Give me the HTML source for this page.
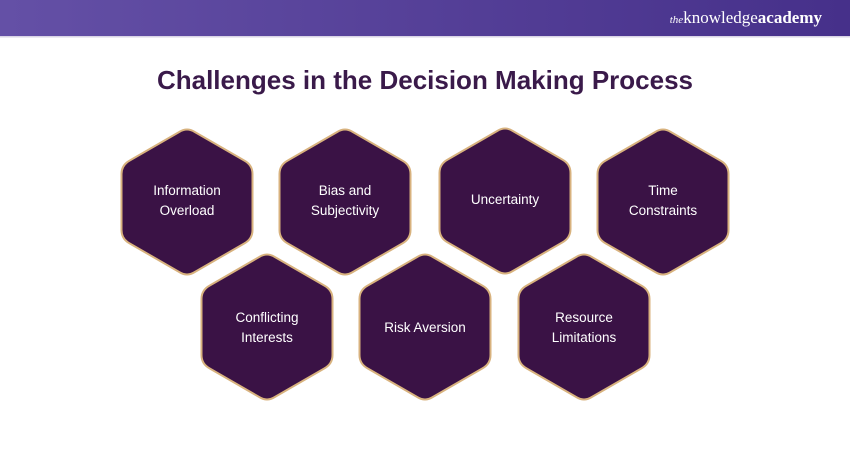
<!DOCTYPE html>
<html><head><meta charset="utf-8"><style>
body{margin:0;width:850px;height:450px;background:#fff;overflow:hidden;font-family:"Liberation Sans",sans-serif}
</style></head><body>
<svg width="850" height="450" xmlns="http://www.w3.org/2000/svg">
<defs>
<linearGradient id="g" x1="0" x2="1" y1="0" y2="0"><stop offset="0" stop-color="#6450a6"/><stop offset="1" stop-color="#46308a"/></linearGradient>
<path id="h" d="M-7.8,-70 Q0,-75 7.8,-70 L57.2,-41.5 Q65.5,-37 65.5,-28 L65.5,28 Q65.5,37 57.2,41.5 L7.8,70 Q0,75 -7.8,70 L-57.2,41.5 Q-65.5,37 -65.5,28 L-65.5,-28 Q-65.5,-37 -57.2,-41.5 Z" fill="#3a1245" stroke="#d8b27e" stroke-width="2"/>
</defs>
<rect x="0" y="0" width="850" height="36" fill="url(#g)"/>
<rect x="0" y="36" width="850" height="1.5" fill="#d9d4e6"/>
<text x="822" y="23" text-anchor="end" font-family="Liberation Serif,serif" font-size="17" fill="#fff"><tspan font-style="italic" font-size="11">the</tspan>knowledge<tspan font-weight="bold">academy</tspan></text>
<text x="425" y="89" text-anchor="middle" font-size="26" font-weight="bold" fill="#3a1a4a">Challenges in the Decision Making Process</text>
<g font-size="13.5" fill="#fff" text-anchor="middle">
<use href="#h" x="187" y="202"/><text x="187" y="195">Information</text><text x="187" y="215">Overload</text>
<use href="#h" x="345" y="202"/><text x="345" y="195">Bias and</text><text x="345" y="215">Subjectivity</text>
<use href="#h" x="505" y="201"/><text x="505" y="204">Uncertainty</text>
<use href="#h" x="663" y="202"/><text x="663" y="195">Time</text><text x="663" y="215">Constraints</text>
<use href="#h" x="267" y="327"/><text x="267" y="322">Conflicting</text><text x="267" y="342">Interests</text>
<use href="#h" x="425" y="327"/><text x="425" y="332">Risk Aversion</text>
<use href="#h" x="584" y="327"/><text x="584" y="322">Resource</text><text x="584" y="342">Limitations</text>
</g>
</svg>
</body></html>
